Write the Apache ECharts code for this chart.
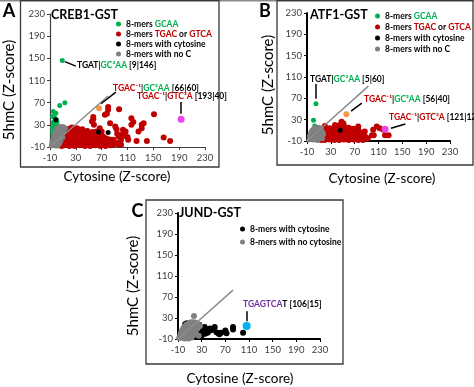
<!DOCTYPE html>
<html><head><meta charset="utf-8">
<script src="https://cdn.jsdelivr.net/npm/echarts@6/dist/echarts.min.js"></script>
<style>html,body{margin:0;padding:0;background:#fff}#c{width:474px;height:387px}</style>
</head><body><div id="c"></div>
<script>
// ---------- shared axis ticks ----------
const axisTicks = [-10, 30, 70, 110, 150, 190, 230];

// ---------- Panel A : CREB1-GST ----------
const A_gcaa = [[9,146],[5,65],[13,70],[-5,54],[-1,51],[-6,45],[-3,43],[0,39],[-5,34],[-2,29],[-6,25],[-3,21],[-6,16],[-2,13],[-5,9],[-3,4],[-6,0],[-4,31],[1,34],[-7,-4],[-4,-7]];
const A_tgac = [[8,-8],[6,-3],[9,3],[12,8],[14,14],[17,19],[20,23],[24,25],[28,22],[32,24],[36,20],[40,22],[44,18],[48,19],[52,15],[56,17],[60,12],[64,14],[68,10],[72,9],[76,6],[80,4],[84,3],[88,1],[92,-2],[96,-5],[100,-6],
 [12,-7],[16,-4],[20,-8],[24,-5],[28,-8],[32,-4],[36,-7],[40,-3],[44,-8],[48,-5],[52,-8],[56,-4],[60,-7],[64,-3],[68,-8],[72,-5],[76,-8],[80,-3],[84,-7],[88,-6],
 [14,0],[18,4],[22,1],[26,6],[30,2],[34,7],[38,1],[42,5],[46,0],[50,6],[54,2],[58,5],[62,0],[66,4],[70,1],[74,2],[78,-1],[82,0],
 [16,10],[20,13],[24,9],[28,15],[32,11],[36,14],[40,9],[44,12],[48,8],[52,10],[56,7],[60,5],[64,8],
 [22,18],[26,12],[30,17],[34,15],[38,16],[42,13],[46,11],[50,11],
 [80,62],[97,58],[57,44],[75,48],[78,50],[80,57],[83,33],[91,27],[55,36],[58,30],[67,24],[62,18],[93,22],[103,21],[103,14],[116,42],[119,35],[132,30],[132,24],[127,18],[135,33],[151,49],[140,1],[124,1],[103,10],[107,18],[111,3],[166,7],[176,1],[96,9],[88,3],[94,14],[100,3],[116,30],[110,8],[70,18],[57,40]];
const A_cyt = [[-1,39],[65,17],[80,16]];
const A_noC = [[-8,-8],[-6,-4],[-7,0],[-5,4],[-4,8],[-3,13],[-2,17],[-1,21],[1,24],[3,26],[6,27],[9,27],[12,26],[14,24],[11,21],[8,19],[5,18],[2,15],[0,11],[-2,6],[-3,1],[-5,-3],[-4,-7],[-1,-8],[1,-4],[3,0],[5,5],[7,10],[9,14],[12,18],[2,-8],[5,-4],[7,1],[10,7],[4,10],[1,5],[-1,1],[3,21],[0,-2],[7,22],[10,24]];
const A_orange = [[66,60]];
const A_pink = [[193,40]];
const A_diag = [[-10,-10],[80,82]];
const A_arrows = [[[30,136],[13,144]],[[92,89],[69,68]],[[193,71],[193,50]]];

// ---------- Panel B : ATF1-GST ----------
const B_gcaa = [[5,60],[1,29],[3,18],[6,14]];
const B_tgac = [[14,-8],[16,-2],[18,4],[20,9],[24,12],[28,14],[32,13],[36,16],[40,15],[44,19],[48,24],[52,18],[56,14],[60,15],[64,12],[68,13],[72,9],[76,11],[80,6],[84,2],[88,-2],[92,-5],
 [20,-8],[24,-4],[28,-7],[32,-3],[36,-8],[40,-5],[44,-8],[48,-3],[52,-7],[56,-4],[60,-8],[64,-5],[68,-7],[72,-3],[76,-8],[80,-5],[84,-8],
 [22,2],[26,5],[30,1],[34,6],[38,2],[42,7],[46,1],[50,5],[54,2],[58,6],[62,0],[66,4],[70,1],[74,3],[78,-1],
 [28,9],[32,8],[36,10],[40,9],[44,12],[48,10],[52,11],[56,8],[60,9],[64,6],[68,7],
 [37,20],[51,23],[41,17],[46,15],[76,17],[87,8],[80,1],[107,17],[112,14],[118,11],[101,11],[121,1],[99,1],[70,8],[102,1],[127,1],[20,18],[48,26]];
const B_cyt = [[46,10]];
const B_noC = [[-7,-8],[-5,-4],[-6,0],[-4,4],[-3,8],[-1,11],[2,14],[5,16],[9,16],[12,15],[14,12],[10,10],[6,9],[3,6],[0,3],[-2,-1],[-4,-7],[0,-8],[3,-4],[6,0],[9,4],[12,7],[15,9],[17,6],[18,2],[14,-2],[10,-6],[5,-8],[8,-9],[2,1],[16,-6]];
const B_orange = [[56,40]];
const B_pink = [[121,12]];
const B_diag = [[-10,-10],[93,93]];
const B_arrows = [[[5,97],[5,69]],[[82,61],[64,46]],[[155,22],[131,14]]];

// ---------- Panel C : JUND-GST ----------
const C_cyt = [[2,18],[5,20],[8,16],[6,13],[11,19],[14,15],[17,12],[20,14],[23,10],[26,12],[29,8],[32,11],[35,13],[34,7],[38,9],[42,5],[44,10],[40,2],[36,0],[30,1],[27,-2],[24,3],[20,5],[17,0],[14,4],[11,8],[22,-3],[30,-4],[47,7],[52,13],[58,1],[60,-1],[55,3],[63,2],[70,6],[72,1],[83,13],[83,8],[100,2],[26,17],[18,20],[3,14]];
const C_noC = [[17,34],[-8,-8],[-6,-3],[-5,2],[-3,6],[-1,10],[1,14],[4,17],[8,20],[12,22],[16,22],[20,21],[24,18],[27,15],[22,14],[18,16],[14,16],[10,14],[6,11],[3,8],[0,4],[-2,0],[-4,-5],[-1,-8],[3,-5],[6,-1],[9,3],[12,7],[15,10],[18,11],[2,-9],[6,-7],[10,-3],[14,1],[17,5],[20,8],[23,10],[25,-4],[21,-1],[8,-9],[13,-7]];
const C_blue = [[106,15]];
const C_diag = [[-10,-10],[83,83]];
const C_arrows = [[[106,43],[106,24]]];

// ---------- texts ----------
const panelTitles = ['CREB1-GST', 'ATF1-GST', 'JUND-GST'];
const panelLetters = ['A', 'B', 'C'];
const xTitle = 'Cytosine (Z-score)';
const yTitle = '5hmC (Z-score)';
const legendAB = ['8-mers GCAA', '8-mers TGAC or GTCA', '8-mers with cytosine', '8-mers with no C'];
const legendC = ['8-mers with cytosine', '8-mers with no cytosine'];

const FONT = 'Lato, "Noto Sans", sans-serif';
const GREEN = '#00B050', RED = '#C00000', GRAY = '#808080', BLACK = '#000000';
const ORANGE = '#F79646', PINK = '#EE44EE', BLUE = '#00B0F0', PURPLE = '#7030A0';
const SMALL = 8.5;

const chart = echarts.init(document.getElementById('c'), null, {renderer: 'canvas'});

function axisCfg(i, heavy, isX) {
  return {
    gridIndex: i, type: 'value',
    min: axisTicks[0], max: axisTicks[axisTicks.length - 1], interval: axisTicks[1] - axisTicks[0],
    splitLine: {show: false},
    axisLine: {show: true, onZero: false, lineStyle: {color: heavy ? '#000' : '#404040', width: heavy ? 2 : 1.2}},
    axisTick: {show: true, length: 3, lineStyle: {color: heavy ? '#000' : '#404040', width: 1}},
    axisLabel: {fontFamily: FONT, fontSize: 9.5, color: '#404040', margin: isX ? 6 : 5}
  };
}
function sc(name, data, g, color, size) {
  return {type: 'scatter', name, data, xAxisIndex: g, yAxisIndex: g, symbolSize: size,
    itemStyle: {color, opacity: 1}, silent: true, animation: false};
}
function diag(data, g) {
  return {type: 'line', data, xAxisIndex: g, yAxisIndex: g, symbol: 'none', silent: true, animation: false,
    lineStyle: {color: '#8c8c8c', width: 1.5}};
}
function arrows(list, g) {
  return {type: 'scatter', data: [], xAxisIndex: g, yAxisIndex: g, silent: true, animation: false,
    markLine: {silent: true, animation: false, symbol: ['none', 'arrow'], symbolSize: [0, 7],
      label: {show: false}, lineStyle: {color: '#000', width: 1.5, type: 'solid'},
      data: list.map(a => [{coord: a[0]}, {coord: a[1]}])}};
}
const legendFmt = {
  '8-mers GCAA': '8-mers {g|GCAA}',
  '8-mers TGAC or GTCA': '8-mers {r|TGAC} or {r|GTCA}',
  '8-mers with cytosine': '8-mers with cytosine',
  '8-mers with no C': '8-mers with no C',
  '8-mers with no cytosine': '8-mers with no cytosine'
};
function legendCfg(data, left, top, gap) {
  return {data, left, top, orient: 'vertical', icon: 'circle', itemWidth: 5, itemHeight: 5, itemGap: gap,
    selectedMode: false, padding: 0,
    formatter: n => legendFmt[n],
    textStyle: {fontFamily: FONT, fontSize: SMALL, fontWeight: 'bold', color: '#000', lineHeight: 10,
      rich: {g: {color: GREEN, fontFamily: FONT, fontSize: SMALL, fontWeight: 'bold'},
             r: {color: RED, fontFamily: FONT, fontSize: SMALL, fontWeight: 'bold'}}}};
}
const richAnn = {
  k: {fill: '#000', fontFamily: FONT, fontSize: SMALL, fontWeight: 'bold'},
  g: {fill: GREEN, fontFamily: FONT, fontSize: SMALL, fontWeight: 'bold'},
  r: {fill: RED, fontFamily: FONT, fontSize: SMALL, fontWeight: 'bold'},
  p: {fill: PURPLE, fontFamily: FONT, fontSize: SMALL, fontWeight: 'bold'}
};
function ann(x, y, text) {
  return {type: 'text', x, y, silent: true, style: {text, rich: richAnn, verticalAlign: 'top'}};
}
function txt(x, y, text, size, weight, rot, align) {
  return {type: 'text', x, y, rotation: rot || 0, silent: true,
    style: {text, fill: '#000', fontFamily: FONT, fontSize: size, fontWeight: weight,
      align: align || 'center', verticalAlign: 'middle'}};
}
function box(x, y, w, h) {
  return {type: 'rect', shape: {x, y, width: w, height: h}, silent: true,
    style: {fill: 'none', stroke: '#3a3a3a', lineWidth: 1.3}};
}

chart.setOption({
  animation: false,
  backgroundColor: '#fff',
  grid: [
    {left: 50, top: 14, width: 155, height: 133, outerBoundsMode: 'none'},
    {left: 307, top: 13, width: 143, height: 128, outerBoundsMode: 'none'},
    {left: 178, top: 213, width: 142, height: 126, outerBoundsMode: 'none'}
  ],
  xAxis: [axisCfg(0, false, true), axisCfg(1, true, true), axisCfg(2, true, true)],
  yAxis: [axisCfg(0, false, false), axisCfg(1, true, false), axisCfg(2, true, false)],
  legend: [legendCfg(legendAB, 116, 19, 0), legendCfg(legendAB, 375, 11, 1), legendCfg(legendC, 240, 224, 3)],
  series: [
    sc('8-mers GCAA', A_gcaa, 0, GREEN, 5),
    sc('8-mers TGAC or GTCA', A_tgac, 0, RED, 6),
    sc('8-mers with cytosine', A_cyt, 0, BLACK, 5),
    sc('8-mers with no C', A_noC, 0, GRAY, 5),
    diag(A_diag, 0),
    sc('A TGAC|GCAA', A_orange, 0, ORANGE, 6),
    sc('A TGAC|GTCA', A_pink, 0, PINK, 7),
    arrows(A_arrows, 0),

    sc('8-mers GCAA', B_gcaa, 1, GREEN, 5),
    sc('8-mers TGAC or GTCA', B_tgac, 1, RED, 6),
    sc('8-mers with cytosine', B_cyt, 1, BLACK, 5),
    sc('8-mers with no C', B_noC, 1, GRAY, 5),
    diag(B_diag, 1),
    sc('B TGAC|GCAA', B_orange, 1, ORANGE, 6),
    sc('B TGAC|GTCA', B_pink, 1, PINK, 7),
    arrows(B_arrows, 1),

    sc('8-mers with cytosine', C_cyt, 2, BLACK, 6),
    sc('8-mers with no cytosine', C_noC, 2, GRAY, 6),
    diag(C_diag, 2),
    sc('C TGAGTCAT', C_blue, 2, BLUE, 8),
    arrows(C_arrows, 2)
  ],
  graphic: [
    {type: 'line', shape: {x1: 0, y1: 0.5, x2: 474, y2: 0.5}, silent: true, style: {stroke: '#8a8a8a', lineWidth: 2}},
    box(20.5, 0.5, 198.5, 166.5), box(277, 0.5, 196, 164.5), box(146, 200, 197, 164),
    txt(9, 11, panelLetters[0], 18, 'bold'),
    txt(265, 11, panelLetters[1], 18, 'bold'),
    txt(137.5, 211, panelLetters[2], 18, 'bold'),
    txt(51, 15, panelTitles[0], 12.5, 'bold', 0, 'left'),
    txt(310, 15, panelTitles[1], 12.5, 'bold', 0, 'left'),
    txt(179, 213, panelTitles[2], 12.5, 'bold', 0, 'left'),
    txt(117, 177, xTitle, 13.5, 'normal'),
    txt(382, 179, xTitle, 13.5, 'normal'),
    txt(240, 379, xTitle, 13.5, 'normal'),
    txt(9, 90, yTitle, 15, 'normal', Math.PI / 2),
    txt(268, 85, yTitle, 15, 'normal', Math.PI / 2),
    txt(133, 286, yTitle, 15, 'normal', Math.PI / 2),
    ann(77, 61, '{k|TGAT|}{g|GC²AA}{k| [9|146]}'),
    ann(113, 84, '{r|TGAC⁻¹}{k||}{g|GC²AA}{k| [66|60]}'),
    ann(137, 92, '{r|TGAC⁻¹}{k||}{r|GTC³A}{k| [193|40]}'),
    ann(310, 75, '{k|TGAT|}{g|GC²AA}{k| [5|60]}'),
    ann(364, 95, '{r|TGAC⁻¹}{k||}{g|GC²AA}{k| [56|40]}'),
    ann(389, 113, '{r|TGAC⁻¹}{k||}{r|GTC³A}{k| [121|12]}'),
    ann(243, 300, '{p|TGAGTCA}{k|T [106|15]}')
  ]
});
</script></body></html>
